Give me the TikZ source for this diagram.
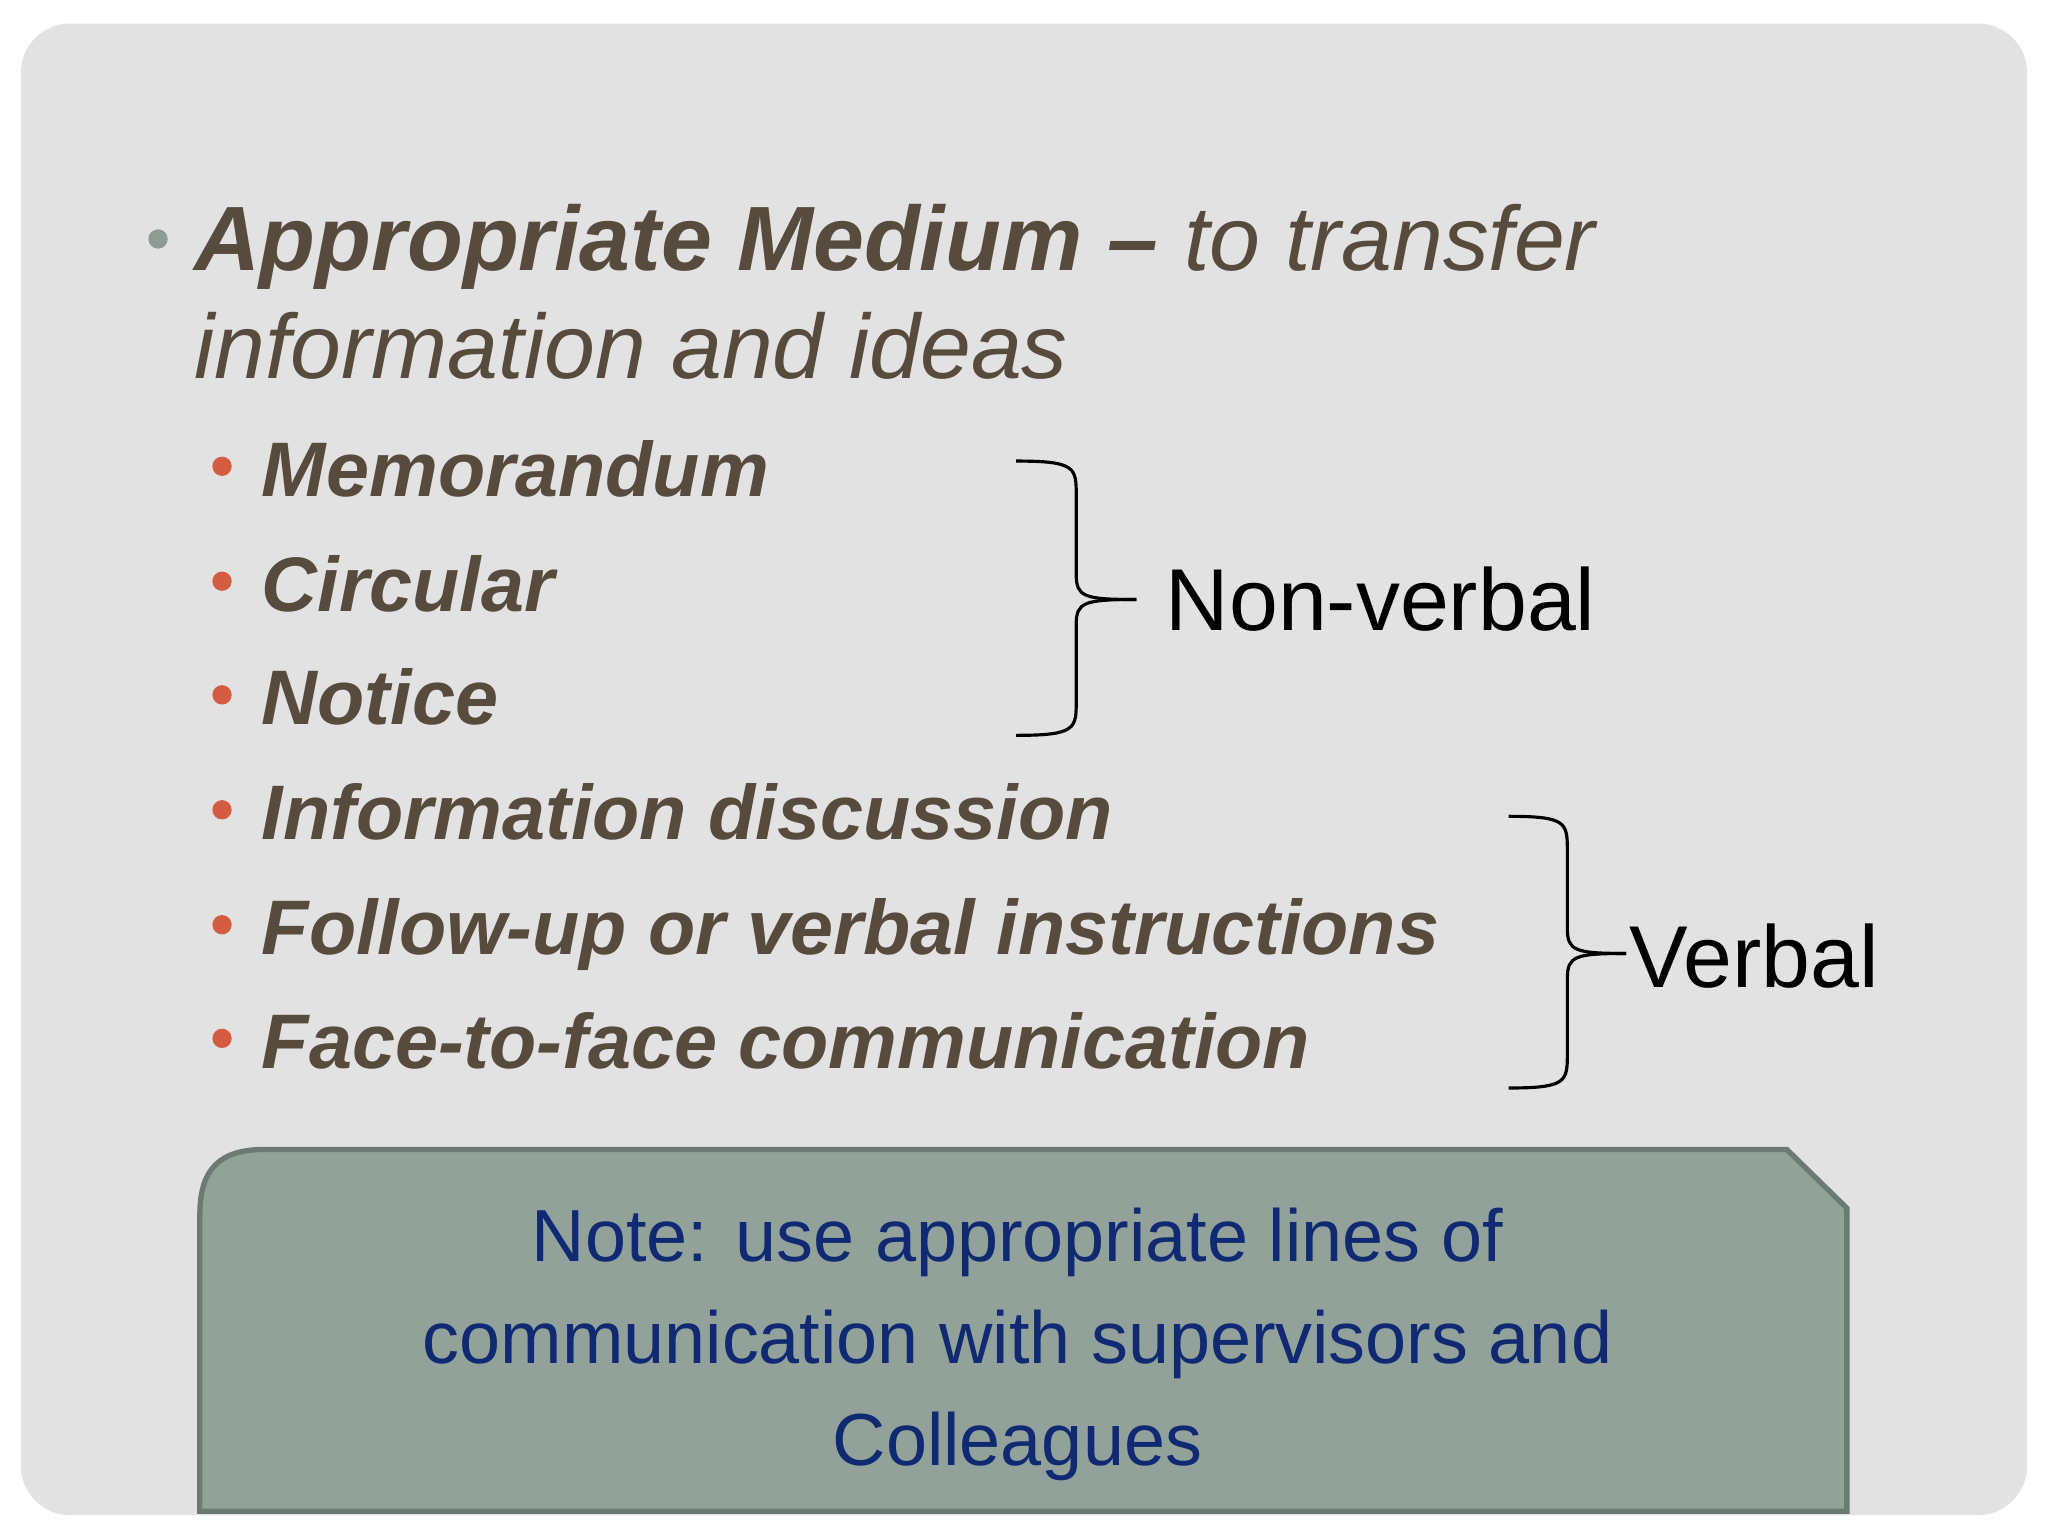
\documentclass[tikz,border=0pt]{standalone}
\usepackage{fontspec}
\setmainfont{Liberation Sans}
\definecolor{bg}{HTML}{E2E2E2}
\definecolor{txt}{HTML}{564B3C}
\definecolor{gbul}{HTML}{8E9A94}
\definecolor{rbul}{HTML}{D35C41}
\definecolor{notefill}{HTML}{92A199}
\definecolor{noteline}{HTML}{6B7A72}
\definecolor{navy}{HTML}{0F2A72}
\begin{document}
\begin{tikzpicture}[x=0.013061cm,y=-0.013061cm,
  head/.style={anchor=base west,text=txt,inner sep=0pt,font=\fontsize{26}{30}\selectfont\itshape},
  item/.style={anchor=base west,text=txt,inner sep=0pt,font=\fontsize{22}{26}\selectfont\bfseries\itshape},
  bul/.style={circle,inner sep=0pt,minimum size=5.5pt},
  brlab/.style={anchor=west,inner sep=0pt,font=\fontsize{25}{30}\selectfont},
  brace/.style={draw=black,line width=0.9pt}]
\useasboundingbox (0,0) rectangle (1568,1176);
\fill[white] (0,0) rectangle (1568,1176);
\fill[bg,rounded corners=14] (16,18) rectangle (1552,1160);
% heading
\node[bul,fill=gbul] (b0) at (121,183) {};
\node[head] (h1) at (148,207) {\textbf{Appropriate Medium –} to transfer};
\node[head] (h2) at (148,290) {information and ideas};
% items
\foreach \n/\y/\t in {i1/380/Memorandum,i2/468/Circular,i3/555/Notice,i4/643/Information discussion,i5/731/Follow-up or verbal instructions,i6/818/Face-to-face communication}{
  \node[bul,fill=rbul] (\n b) at (170,\y-23) {};
  \node[item] (\n) at (200,\y) {\t};
}
% braces
\draw[brace] (778,353) .. controls (824,353) and (824,358) .. (824,380) -- (824,440)
  .. controls (824,457) and (830,459) .. (870,459);
\draw[brace] (778,563) .. controls (824,563) and (824,558) .. (824,536) -- (824,478)
  .. controls (824,461) and (830,459) .. (870,459);
\coordinate (t1) at (870,459);
\node[brlab] (nv) at (892,459) {Non-verbal};
\draw[brace] (1155,625) .. controls (1200,625) and (1200,630) .. (1200,652) -- (1200,711)
  .. controls (1200,728) and (1206,730) .. (1245,730);
\draw[brace] (1155,833) .. controls (1200,833) and (1200,828) .. (1200,806) -- (1200,749)
  .. controls (1200,732) and (1206,730) .. (1245,730);
\node[brlab] (vb) at (1247,732) {Verbal};
% note
\draw[fill=notefill,draw=noteline,line width=1.5pt]
  (153,1157) -- (153,930) .. controls (153,895) and (168,880) .. (203,880)
  -- (1368,880) -- (1414,925) -- (1414,1157) -- cycle;
\node[text=navy,align=center,font=\fontsize{21}{29}\selectfont] (note) at (779,1029)
  {Note: use appropriate lines of\\communication with supervisors and\\Colleagues};
\end{tikzpicture}
\end{document}
